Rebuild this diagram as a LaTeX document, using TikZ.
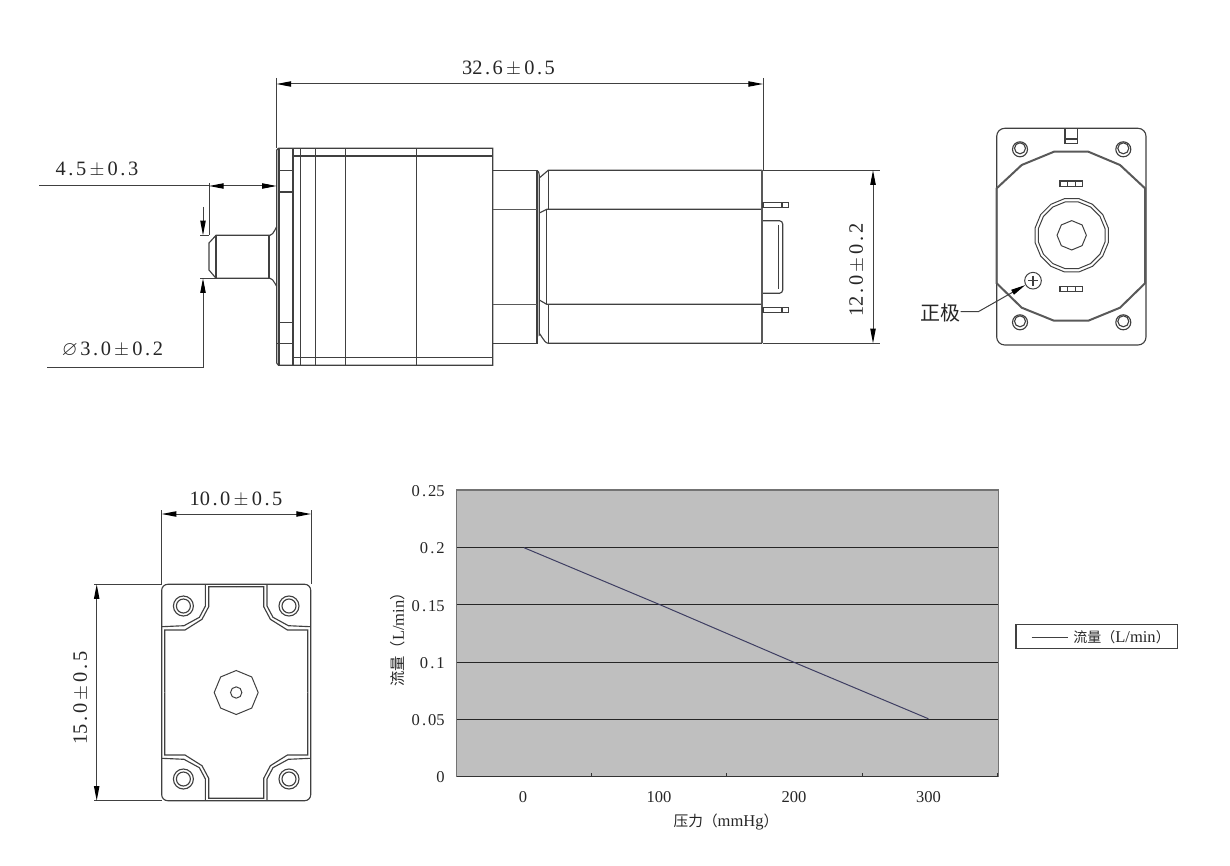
\documentclass[tikz,border=0pt]{standalone}
\usepackage{fontspec}
\usepackage{amssymb}
\newfontfamily\cjkfont{Noto Sans CJK SC}
\newfontfamily\digitfont{Liberation Serif}
\usetikzlibrary{arrows.meta,shapes.geometric}
\newcommand{\wpm}{\makebox[1.05em]{$\pm$}}
\newcommand{\dt}{\makebox[.5em]{.}}
\definecolor{seriescol}{RGB}{62,62,98}
\tikzset{
	part/.style={draw=black!75, line width=0.85pt},
	heavy/.style={draw=black!65, line width=1.5pt},
	thinline/.style={draw=black!75, line width=0.75pt},
	dimline/.style={thinline, {Stealth[length=11pt,width=4pt,inset=0pt,black]}-{Stealth[length=11pt,width=4pt,inset=0pt,black]}},
	tipline/.style={thinline, -{Stealth[length=11pt,width=4pt,inset=0pt,black]}},
	dimtext/.style={font=\digitfont\fontsize{15.3}{16}\selectfont, inner sep=0pt, text=black!85},
	charttext/.style={font=\digitfont\fontsize{12.4}{13}\selectfont, inner sep=0pt, text=black!85},
	ngon/.style={regular polygon, regular polygon sides=#1, shape border rotate=0, draw=black!75, line width=0.75pt, inner sep=0pt, outer sep=0pt},
}
\begin{document}
\begin{tikzpicture}[x=0.75pt, y=-0.75pt]
	\useasboundingbox (0,0) rectangle (1230,866);

	% Side view, body
	\draw[part] (276.7,150) -- (276.7,363) to[out=90,in=180] (278.5,365.3) -- (492.7,365.3) -- (492.7,148.3) -- (278.5,148.3) to[out=180,in=-90] (276.7,150);
	\draw[part] (279,148.3) -- (279,365.3);
	\foreach \xpos in {293,300.3,315.3,345.5,416.3}
		\draw[part] (\xpos,148.3) -- (\xpos,365.3);
	\draw[part] (293,156) -- (492.7,156);
	\draw[part] (293,357.7) -- (492.7,357.7);
	\draw[part] (279,192) -- (293,192) (279,170.7) -- (293,170.7);
	\draw[part] (279,322.7) -- (293,322.7) (276.7,343.3) -- (293,343.3);

	% Shaft
	\draw[part] (276.7,228) to[out=90,in=0] (270,235.3) -- (216,235.3) -- (209,243) -- (209,270) -- (216,278.3) -- (270,278.3) to[out=0,in=-90] (276.7,285);
	\draw[part] (216,235.3) -- (216,278.3) (269,235.3) -- (269,278.3);

	% Motor end
	\draw[part] (492.7,170.5) -- (537,170.5) -- (537,343.3) -- (492.7,343.3);
	\draw[heavy, line width=1.1pt] (492.7,209.7) -- (537,209.7) (492.7,304.5) -- (537,304.5);
	\draw[part] (492.7,170.5) -- (492.7,209.7) (492.7,304.5) -- (492.7,343.3);
	\draw[part] (537,170.5) to[out=0,in=-90] (539.3,178) -- (539.3,335) to[out=90,in=180] (548.3,343.3) -- (762,343.3);
	\draw[part] (539.3,178) -- (548.3,170.2) -- (762,170.2);
	\draw[part] (548.3,170.2) -- (548.3,209.3) (548.3,304.3) -- (548.3,343.3);
	\draw[part] (539.3,213) -- (546.7,209.3) -- (762,209.3);
	\draw[part] (539.3,300) -- (546.7,304.3) -- (762,304.3);
	\draw[part] (546.7,209.3) -- (546.7,304.3);
	\draw[heavy] (762,170.2) -- (762,343.3);
	\draw[part] (763,202.3) rectangle (788.7,207.3) (782,202.3) -- (782,207.3);
	\draw[part] (763,307.3) rectangle (788.7,312.3) (782,307.3) -- (782,312.3);
	\draw[part, rounded corners=2.5pt] (763,220.7) -- (782.7,220.7) -- (782.7,293.3) -- (763,293.3);
	\draw[part] (778.3,225) -- (778.3,289);

	% Side view, dimensions
	\coordinate (top left) at (276.5,84);
	\coordinate (top right) at (763,84);
	\coordinate (body corner) at (276.5,148.3);
	\coordinate (can corner) at (763,170.2);
	\draw[thinline] (top left) ++(0,-6) -- (body corner);
	\draw[thinline] (top right) ++(0,-6) -- (can corner);
	\draw[dimline] (top left) -- (top right);
	\node[dimtext] (overall) at (508.5,69) {32\dt 6\wpm 0\dt 5};

	\coordinate (stub far) at (39,186);
	\coordinate (stub left) at (209,186);
	\coordinate (stub right) at (276.7,186);
	\coordinate (stub foot) at (209,235.3);
	\draw[thinline] (stub far) -- (stub left);
	\draw[thinline] (209,183) -- (stub foot);
	\draw[dimline] (stub left) -- (stub right);
	\node[dimtext] (stub size) at (97,169.5) {4\dt 5\wpm 0\dt 3};

	\coordinate (dia top) at (203,235.3);
	\coordinate (dia start) at (203,207);
	\coordinate (dia bottom) at (203,278.3);
	\coordinate (dia elbow) at (203,367.3);
	\coordinate (dia far) at (47,367.3);
	\draw[thinline] (200,235.3) -- (209,235.3) (200,278.3) -- (216,278.3);
	\draw[tipline] (dia start) -- (dia top);
	\draw[tipline] (dia far) -- (dia elbow) -- (dia bottom);
	\node[dimtext] (dia size) at (111,350) {\makebox[1.05em]{$\varnothing$}3\dt 0\wpm 0\dt 2};

	\coordinate (height top) at (873,170.2);
	\coordinate (height bottom) at (873,343.3);
	\draw[thinline] (can corner) -- (880,170.2) (763,343.3) -- (880,343.3);
	\draw[dimline] (height top) -- (height bottom);
	\node[dimtext, rotate=90] (height size) at (857,270) {12\dt 0\wpm 0\dt 2};

	% Rear view
	\draw[part, rounded corners=6pt] (996.7,128.3) rectangle (1146,345);
	\draw[part] (1065,128.3) -- (1065,143.3) -- (1077.7,143.3) -- (1077.7,128.3) (1065,139) -- (1077.7,139);
	\draw[heavy] (996.7,188.3) -- (1021.7,165) -- (1054,151.7) -- (1088.3,151.7) -- (1120,165) -- (1145,188.3) -- (1145,283.3) -- (1120,307.7) -- (1088.3,320.7) -- (1054,320.7) -- (1021.7,307.7) -- (996.7,283.3) -- cycle;
	\foreach \xpos in {1020,1123.3}
		\foreach \ypos in {149.3,322.3} {
			\draw[part] (\xpos,\ypos) circle[radius=7.5];
			\draw[part] (\xpos,\ypos-1) circle[radius=5.5];
		}
	\foreach \ypos in {181,286.3} {
		\draw[part] (1060,\ypos) rectangle (1082.7,\ypos+5.4);
		\draw[part] (1067.3,\ypos) -- (1067.3,\ypos+5.4) (1075.7,\ypos) -- (1075.7,\ypos+5.4);
	}
	\node[ngon=16, minimum size=56pt] (port ring) at (1071.7,235.3) {};
	\node[ngon=16, minimum size=51pt] (port inner) at (1071.7,235.3) {};
	\node[ngon=8, minimum size=22pt, rotate=22.5] (port hole) at (1071.7,235.3) {};
	\node[circle, draw=black!75, line width=0.75pt, minimum size=12.5pt, inner sep=0pt] (plus mark) at (1033,280.7) {};
	\draw[part] (1033,275.5) -- (1033,286) (1027.8,280.7) -- (1038.2,280.7);
	\node[inner sep=0pt, font=\cjkfont\fontsize{15}{15}\selectfont, text=black!85] (anode) at (940,313) {正极};
	\coordinate (anode elbow) at (978.3,311.7);
	\draw[tipline] (960.5,311.7) -- (anode elbow) -- (plus mark);

	% Bottom view
	\draw[part, rounded corners=4.5pt] (161.7,584.3) rectangle (310.7,800.7);
	\foreach \sx/\sy in {1/1,-1/1,1/-1,-1/-1} {
		\begin{scope}[shift={(236.2,692.5)}, xscale=\sx, yscale=\sy]
			\draw[part] (-30.8,-108.2) -- (-30.8,-86.5) -- (-36.8,-75.2) -- (-52.2,-66.8) -- (-74.5,-65.8);
			\draw[part] (0,-105.8) -- (-27.5,-105.8) -- (-27.5,-85.8) -- (-34.2,-73.2) -- (-51.2,-62.5) -- (-71.5,-62.5) -- (-71.5,0);
			\draw[part] (-52.8,-86.5) circle[radius=7];
			\draw[part] (-52.8,-86.5) circle[radius=10];
		\end{scope}
	}
	\node[ngon=8, minimum size=33pt, rotate=22.5] (shaft end) at (236.2,692.5) {};
	\node[circle, draw=black!75, line width=0.75pt, minimum size=8.5pt, inner sep=0pt] (shaft hole) at (236.2,692.5) {};

	% Bottom view, dimensions
	\coordinate (width left) at (161.7,514);
	\coordinate (width right) at (311,514);
	\draw[thinline] (161.7,510) -- (161.7,584.3) (311,510) -- (311,584.3);
	\draw[dimline] (width left) -- (width right);
	\node[dimtext] (width size) at (236,499.3) {10\dt 0\wpm 0\dt 5};
	\coordinate (length top) at (96.7,584.3);
	\coordinate (length bottom) at (96.7,800.7);
	\draw[thinline] (94,584.3) -- (162,584.3) (94,800.7) -- (162,800.7);
	\draw[dimline] (length top) -- (length bottom);
	\node[dimtext, rotate=90] (length size) at (81,698) {15\dt 0\wpm 0\dt 5};

	% Chart
	\fill[fill=black!25] (456.7,490) rectangle (998.3,776.7);
	\draw[draw=black!55, line width=0.8pt] (456.7,776.7) -- (456.7,490) -- (998.3,490) -- (998.3,776.7);
	\foreach \ypos in {547.5,604.5,662.5,719.5}
		\draw[draw=black!85, line width=0.85pt] (456.7,\ypos) -- (998.3,\ypos);
	\draw[draw=black!80, line width=0.9pt] (456.7,776.7) -- (998.3,776.7);
	\foreach \xpos in {591.7,726.7,862.7,997.7}
		\draw[draw=black!80, line width=0.7pt] (\xpos,776.7) -- (\xpos,772.5);
	\draw[draw=seriescol, line width=0.75pt] (524,547.7) -- (659,604.3) -- (794,662.3) -- (928.3,718.7);
	\foreach \val/\ypos/\tick in {0\dt 25/491/a,0\dt 2/548/b,0\dt 15/606/c,0\dt 1/663/d,0\dt 05/720/e,0/777/f}
		\node[charttext, anchor=east] (y\tick) at (445,\ypos) {\val};
	\foreach \val/\xpos in {0/523,100/659,200/794,300/928.5}
		\node[charttext] (x\val) at (\xpos,797) {\val};
	\node[charttext, rotate=90] (y title) at (398,636) {{\cjkfont\fontsize{11.5}{12}\selectfont 流量（}L/min{\cjkfont\fontsize{11.5}{12}\selectfont ）}};
	\node[charttext] (x title) at (726,822) {{\cjkfont\fontsize{11}{12}\selectfont 压力（}mmHg{\cjkfont\fontsize{11}{12}\selectfont ）}};

	% Legend
	\draw[part] (1016,624.3) rectangle (1177.7,648.3);
	\coordinate (key left) at (1031.7,637);
	\coordinate (key right) at (1068.3,637);
	\draw[thinline] (key left) -- (key right);
	\node[charttext, anchor=east] (key text) at (1170,637) {{\cjkfont\fontsize{10.5}{12}\selectfont 流量（}L/min{\cjkfont\fontsize{10.5}{12}\selectfont ）}};
\end{tikzpicture}
\end{document}
